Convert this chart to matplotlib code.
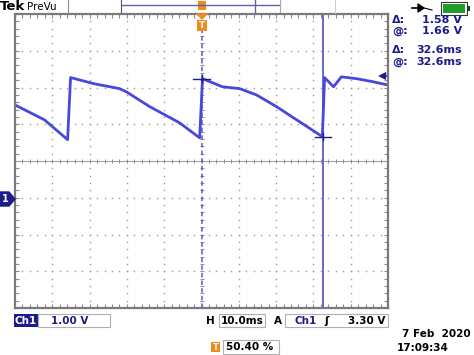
import numpy as np
import matplotlib
matplotlib.use('Agg')
import matplotlib.pyplot as plt
from matplotlib.patches import Rectangle, Polygon

# Ch1 trace (ms, V)
time_ms = [-50.1, -42.1, -35.9, -35.1, -28.7, -22.0, -20.1, -13.9, -5.9, -0.5,
           0.27, 5.6, 10.2, 14.7, 20.1, 25.5, 30.8, 32.4,
           33.0, 35.4, 37.5, 41.6, 45.8, 49.9]
volts = [2.53, 2.12, 1.58, 3.27, 3.10, 2.97, 2.88, 2.48, 2.04, 1.63,
         3.24, 3.02, 2.97, 2.80, 2.48, 2.12, 1.77, 1.66,
         3.27, 3.02, 3.29, 3.24, 3.16, 3.07]

cursor_t = [0.0, 32.6]
cursor_v = [3.24, 1.66]
trig_level = 3.30

readouts = [('\u0394:', '1.58 V'), ('@:', '1.66 V'), ('\u0394:', '32.6ms'), ('@:', '32.6ms')]

W, H = 474, 355
NAVY = '#1c1c8c'
ORANGE = '#f08a1c'
TRACE = '#4848dc'
GRAY = '#8c8c8c'


def fx(x):
    return x / W


def fy(y):
    return 1 - y / H


def box(fig, x0, y0, x1, y1, **kw):
    r = Rectangle((fx(x0), fy(y1)), fx(x1) - fx(x0), fy(y0) - fy(y1),
                  transform=fig.transFigure, **kw)
    fig.patches.append(r)


def txt(fig, x, y, s, **kw):
    kw.setdefault('fontsize', 7.5)
    kw.setdefault('fontweight', 'bold')
    kw.setdefault('va', 'center')
    fig.text(fx(x), fy(y), s, **kw)


fig = plt.figure(figsize=(W / 100, H / 100), dpi=100)
ax = fig.add_axes([fx(15), fy(308), fx(388) - fx(15), fy(14) - fy(308)])
ax.set_xlim(-50, 50)
ax.set_ylim(-3, 5)

# graticule
minor_t = np.arange(-50, 50.01, 2)
minor_v = np.arange(-3, 5.01, 0.2)
for t in range(-40, 41, 10):
    if t != 0:
        ax.plot(np.full(len(minor_v), t), minor_v, ls='none', marker='s',
                ms=1.0, mew=0, color='#9a9a9a')
for v in range(-2, 5):
    if v != 1:
        ax.plot(minor_t, np.full(len(minor_t), v), ls='none', marker='s',
                ms=1.0, mew=0, color='#9a9a9a')
ax.axhline(1, color='#a0a0a0', lw=0.8)
ax.plot(minor_t, np.full(len(minor_t), 1), ls='none', marker='|', ms=3.5,
        mew=0.7, color=GRAY)
ax.plot(np.zeros(len(minor_v)), minor_v, ls='none', marker='_', ms=3.5,
        mew=0.7, color=GRAY)

ax.set_xticks(np.arange(-50, 51, 10))
ax.set_yticks(np.arange(-3, 5.1, 1))
ax.set_xticks(minor_t, minor=True)
ax.set_yticks(minor_v, minor=True)
ax.tick_params(which='both', direction='in', top=True, right=True,
               labelbottom=False, labelleft=False, length=3, width=0.8,
               color=GRAY)
for s in ax.spines.values():
    s.set_color('#7a7a7a')
    s.set_linewidth(1.6)

# cursors
ax.axvline(cursor_t[0], color='#5a5ad0', lw=1.1, ls=(0, (3, 2)))
ax.axvline(cursor_t[1], color='#6868c4', lw=1.4)

# trace
ax.plot(time_ms, volts, color=TRACE, lw=2.0, solid_joinstyle='round')

for t, v in zip(cursor_t, cursor_v):
    ax.plot([t - 2.2, t + 2.2], [v, v], color=NAVY, lw=1.0)
    ax.plot([t, t], [v - 0.1, v + 0.1], color=NAVY, lw=1.0)

# trigger level arrow
ax.plot([48.4], [trig_level], marker='<', ms=5.5, color=NAVY, mew=0)
ax.plot([48.4, 50], [trig_level, trig_level], color=NAVY, lw=1.2)

# top status bar
txt(fig, 0, 7, 'Tek', fontsize=9.5, color='black')
txt(fig, 27, 7, 'PreVu', fontsize=7.5, fontweight='normal', color='black')
fig.add_artist(plt.Line2D([fx(68), fx(68)], [fy(0), fy(13)], color=GRAY, lw=0.8))
fig.add_artist(plt.Line2D([fx(121), fx(121)], [fy(0), fy(12)], color='#555555', lw=0.8))
fig.add_artist(plt.Line2D([fx(121), fx(280)], [fy(5), fy(5)], color='#6060b0', lw=1.0))
fig.add_artist(plt.Line2D([fx(255), fx(255)], [fy(0), fy(12)], color='#6060b0', lw=1.0))
fig.add_artist(plt.Line2D([fx(280), fx(280)], [fy(0), fy(12)], color='#aaaaaa', lw=0.8))
fig.add_artist(plt.Line2D([fx(335), fx(335)], [fy(0), fy(13)], color='#cccccc', lw=0.8))
box(fig, 198, 1, 206, 10, color=ORANGE, lw=0)
fig.patches.append(Polygon([(fx(197), fy(14)), (fx(207), fy(14)), (fx(202), fy(19))],
                           closed=True, transform=fig.transFigure, color=ORANGE))
box(fig, 197, 20, 207, 31, color=ORANGE, lw=0)
txt(fig, 202, 25.5, 'T', fontsize=6.5, color='white', ha='center')

# plug and battery
fig.patches.append(Polygon([(fx(418), fy(4)), (fx(424), fy(8)), (fx(418), fy(12))],
                           closed=True, transform=fig.transFigure, color='black'))
fig.add_artist(plt.Line2D([fx(412), fx(420)], [fy(8), fy(8)], color='black', lw=1.2))
fig.add_artist(plt.Line2D([fx(424), fx(432)], [fy(8), fy(10)], color='black', lw=0.8))
box(fig, 441, 2, 467, 15, facecolor='white', edgecolor='#333333', lw=0.8)
box(fig, 443, 4, 465, 13, color='#1f9e2a', lw=0)
box(fig, 467, 6, 470, 11, color='#333333', lw=0)

# cursor readouts
for i, (lab, val) in enumerate(readouts):
    y = [20, 31, 50, 62][i]
    txt(fig, 392, y, lab, color=NAVY, fontsize=8)
    txt(fig, 462, y, val, color=NAVY, fontsize=8, ha='right')

# ground marker
fig.patches.append(Polygon([(fx(0), fy(192)), (fx(9), fy(192)), (fx(15), fy(199)),
                            (fx(9), fy(206)), (fx(0), fy(206))],
                           closed=True, transform=fig.transFigure, color=NAVY))
txt(fig, 5, 199, '1', fontsize=7, color='white', ha='center')

# bottom readouts
box(fig, 14, 314, 38, 327, color=NAVY, lw=0)
txt(fig, 26, 320.5, 'Ch1', color='white', ha='center')
box(fig, 38, 314, 110, 327, facecolor='none', edgecolor='#b0b0b0', lw=0.8)
txt(fig, 70, 320.5, '1.00 V', color=NAVY, ha='center')
txt(fig, 210, 320.5, 'H', color='black', ha='center')
box(fig, 219, 314, 265, 327, facecolor='none', edgecolor='#b0b0b0', lw=0.8)
txt(fig, 242, 320.5, '10.0ms', color='black', ha='center')
txt(fig, 278, 320.5, 'A', color='black', ha='center')
box(fig, 285, 314, 388, 327, facecolor='none', edgecolor='#b0b0b0', lw=0.8)
txt(fig, 306, 320.5, 'Ch1', color=NAVY, ha='center')
txt(fig, 327, 320.5, '\u0283', color='black', ha='center')
txt(fig, 385, 320.5, '3.30 V', color='black', ha='right')

box(fig, 211, 342, 220, 352, color=ORANGE, lw=0)
txt(fig, 215.5, 347, 'T', fontsize=6, color='white', ha='center')
box(fig, 223, 340, 279, 354, facecolor='none', edgecolor='#b0b0b0', lw=0.8)
txt(fig, 226, 347, '50.40 %', color='black')
txt(fig, 471, 334, '7 Feb  2020', color='black', ha='right')
txt(fig, 397, 348, '17:09:34', color='black')

fig.savefig('out.png', dpi=100)
